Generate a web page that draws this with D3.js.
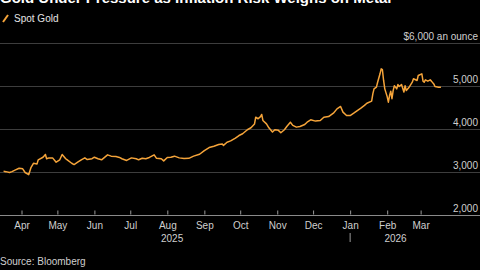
<!DOCTYPE html>
<html>
<head>
<meta charset="utf-8">
<script src="https://cdn.jsdelivr.net/npm/d3@7"></script>
<style>
  body { margin: 0; background: #000; }
  svg { display: block; font-family: "Liberation Sans", Arial, sans-serif; }
</style>
</head>
<body>
<script>
// Spot gold, USD an ounce
var dates = [
  "2025-03-17","2025-03-19","2025-03-22","2025-03-24","2025-03-27","2025-03-30","2025-04-02","2025-04-04",
  "2025-04-07","2025-04-09","2025-04-11","2025-04-14","2025-04-15","2025-04-19","2025-04-21","2025-04-22",
  "2025-04-24","2025-04-27","2025-04-30","2025-05-03","2025-05-05","2025-05-08","2025-05-09","2025-05-13",
  "2025-05-15","2025-05-18","2025-05-21","2025-05-24","2025-05-26","2025-05-30","2025-06-01","2025-06-04",
  "2025-06-07","2025-06-09","2025-06-12","2025-06-15","2025-06-19","2025-06-22","2025-06-24","2025-06-28",
  "2025-07-02","2025-07-06","2025-07-08","2025-07-11","2025-07-14","2025-07-17","2025-07-21","2025-07-23",
  "2025-07-27","2025-07-29","2025-08-01","2025-08-04","2025-08-07","2025-08-11","2025-08-15","2025-08-19",
  "2025-08-23","2025-08-28","2025-09-01","2025-09-05","2025-09-09","2025-09-13","2025-09-16","2025-09-17",
  "2025-09-20","2025-09-23","2025-09-27","2025-09-30","2025-10-03","2025-10-07","2025-10-10","2025-10-13",
  "2025-10-14","2025-10-16","2025-10-18","2025-10-19","2025-10-20","2025-10-23","2025-10-25","2025-10-28",
  "2025-10-30","2025-11-02","2025-11-04","2025-11-07","2025-11-09","2025-11-12","2025-11-14","2025-11-17",
  "2025-11-20","2025-11-24","2025-11-26","2025-11-29","2025-12-03","2025-12-07","2025-12-10","2025-12-14",
  "2025-12-18","2025-12-21","2025-12-24","2025-12-26","2025-12-29","2026-01-01","2026-01-04","2026-01-07",
  "2026-01-10","2026-01-13","2026-01-15","2026-01-19","2026-01-20","2026-01-21","2026-01-23","2026-01-24",
  "2026-01-26","2026-01-27","2026-01-28","2026-01-29","2026-01-30","2026-02-01","2026-02-02","2026-02-03",
  "2026-02-04","2026-02-05","2026-02-06","2026-02-07","2026-02-09","2026-02-10","2026-02-11","2026-02-13",
  "2026-02-15","2026-02-16","2026-02-17","2026-02-19","2026-02-22","2026-02-23","2026-02-26","2026-02-27",
  "2026-03-02","2026-03-03","2026-03-04","2026-03-05","2026-03-07","2026-03-09","2026-03-10","2026-03-12",
  "2026-03-13","2026-03-16","2026-03-18"
];
var prices = [
  3030,3020,3000,3020,3060,3100,3085,3000,
  2950,3120,3215,3200,3295,3355,3420,3320,
  3340,3340,3240,3295,3420,3320,3300,3215,
  3185,3240,3295,3340,3300,3320,3355,3320,
  3295,3340,3410,3380,3370,3350,3320,3280,
  3340,3320,3295,3330,3320,3350,3410,3330,
  3320,3270,3350,3355,3380,3340,3325,3330,
  3380,3425,3510,3580,3610,3650,3665,3630,
  3705,3735,3800,3860,3900,3995,4040,4130,
  4285,4250,4300,4350,4210,4130,4040,3940,
  3995,3980,3925,3995,4070,4170,4095,4055,
  4070,4115,4170,4225,4195,4210,4285,4300,
  4380,4480,4535,4405,4325,4325,4380,4440,
  4495,4560,4610,4660,4830,4945,4985,5100,
  5295,5410,5390,5140,4945,4765,4635,4790,
  4890,4715,4905,5020,4945,5045,5000,5045,
  4870,5020,4905,4970,5100,5180,5140,5255,
  5295,5125,5100,5155,5125,5155,5125,5060,
  5000,4985,4985
];
var yTicks = [2000, 3000, 4000, 5000, 6000];
var monthLabels = ["Apr","May","Jun","Jul","Aug","Sep","Oct","Nov","Dec","Jan","Feb","Mar"];
var yearLabels = [["2025", "2025-08-05"], ["2026", "2026-02-08"]];

var width = 480, height = 270;
var parse = d3.timeParse("%Y-%m-%d");
var data = dates.map(function (d, i) { return { date: parse(d), value: prices[i] }; });

var x = d3.scaleTime()
  .domain([parse("2025-03-14"), parse("2026-04-18")])
  .range([0, 478]);

var y = d3.scaleLinear()
  .domain([2000, 6000])
  .range([215.5, 43.5]);

var svg = d3.select("body").append("svg")
  .attr("width", width)
  .attr("height", height);

// title (cut off at the top, like the source)
svg.append("text")
  .attr("x", 0).attr("y", 3)
  .attr("fill", "#fff")
  .attr("font-weight", "bold")
  .attr("font-size", 15)
  .text("Gold Under Pressure as Inflation Risk Weighs on Metal");

// legend
svg.append("line")
  .attr("x1", 3).attr("y1", 22).attr("x2", 8).attr("y2", 15)
  .attr("stroke", "#f5a43a").attr("stroke-width", 2);
svg.append("text")
  .attr("x", 14).attr("y", 22)
  .attr("fill", "#e6e6e6").attr("font-size", 10)
  .text("Spot Gold");

// gridlines + labels
var grid = svg.append("g");
grid.selectAll("line")
  .data(yTicks.filter(function (d) { return d > 2000; }))
  .enter().append("line")
  .attr("x1", 0).attr("x2", width)
  .attr("y1", function (d) { return y(d); })
  .attr("y2", function (d) { return y(d); })
  .attr("stroke", "#3d3d3d").attr("stroke-width", 1);

grid.selectAll("text")
  .data(yTicks)
  .enter().append("text")
  .attr("x", 478)
  .attr("y", function (d) { return y(d) - 4; })
  .attr("text-anchor", "end")
  .attr("fill", "#cfcfcf").attr("font-size", 10)
  .text(function (d) { return d === 6000 ? "$6,000 an ounce" : d3.format(",")(d); });

// x axis: month starts Apr 2025 .. Mar 2026
var monthTicks = d3.timeMonth.range(parse("2025-04-01"), parse("2026-04-01"));
var xAxis = d3.axisBottom(x)
  .tickValues(monthTicks)
  .tickSize(4)
  .tickFormat(function (d, i) { return monthLabels[i]; });

var gx = svg.append("g")
  .attr("transform", "translate(0," + 215.5 + ")")
  .call(xAxis);
gx.select(".domain").remove();
gx.selectAll(".tick line")
  .attr("y1", -1).attr("y2", -5)
  .attr("stroke", "#9a9a9a");
gx.selectAll(".tick text")
  .attr("y", 6).attr("dy", "0.71em")
  .attr("fill", "#cfcfcf").attr("font-size", 10)
  .attr("font-family", "Liberation Sans, Arial, sans-serif");
svg.append("line")
  .attr("x1", 0).attr("x2", width)
  .attr("y1", 215.5).attr("y2", 215.5)
  .attr("stroke", "#8a8a8a");

svg.selectAll(".year")
  .data(yearLabels)
  .enter().append("text")
  .attr("class", "year")
  .attr("x", function (d) { return x(parse(d[1])); })
  .attr("y", 242)
  .attr("text-anchor", "middle")
  .attr("fill", "#cfcfcf").attr("font-size", 10)
  .text(function (d) { return d[0]; });

svg.append("line")
  .attr("x1", x(parse("2026-01-01"))).attr("x2", x(parse("2026-01-01")))
  .attr("y1", 233).attr("y2", 242)
  .attr("stroke", "#9a9a9a");

// price line
var line = d3.line()
  .x(function (d) { return x(d.date); })
  .y(function (d) { return y(d.value); });

svg.append("path")
  .datum(data)
  .attr("d", line)
  .attr("fill", "none")
  .attr("stroke", "#f5a43a")
  .attr("stroke-width", 1.5)
  .attr("stroke-linejoin", "round");

svg.append("text")
  .attr("x", 0).attr("y", 265)
  .attr("fill", "#cfcfcf").attr("font-size", 10)
  .text("Source: Bloomberg");
</script>
</body>
</html>
